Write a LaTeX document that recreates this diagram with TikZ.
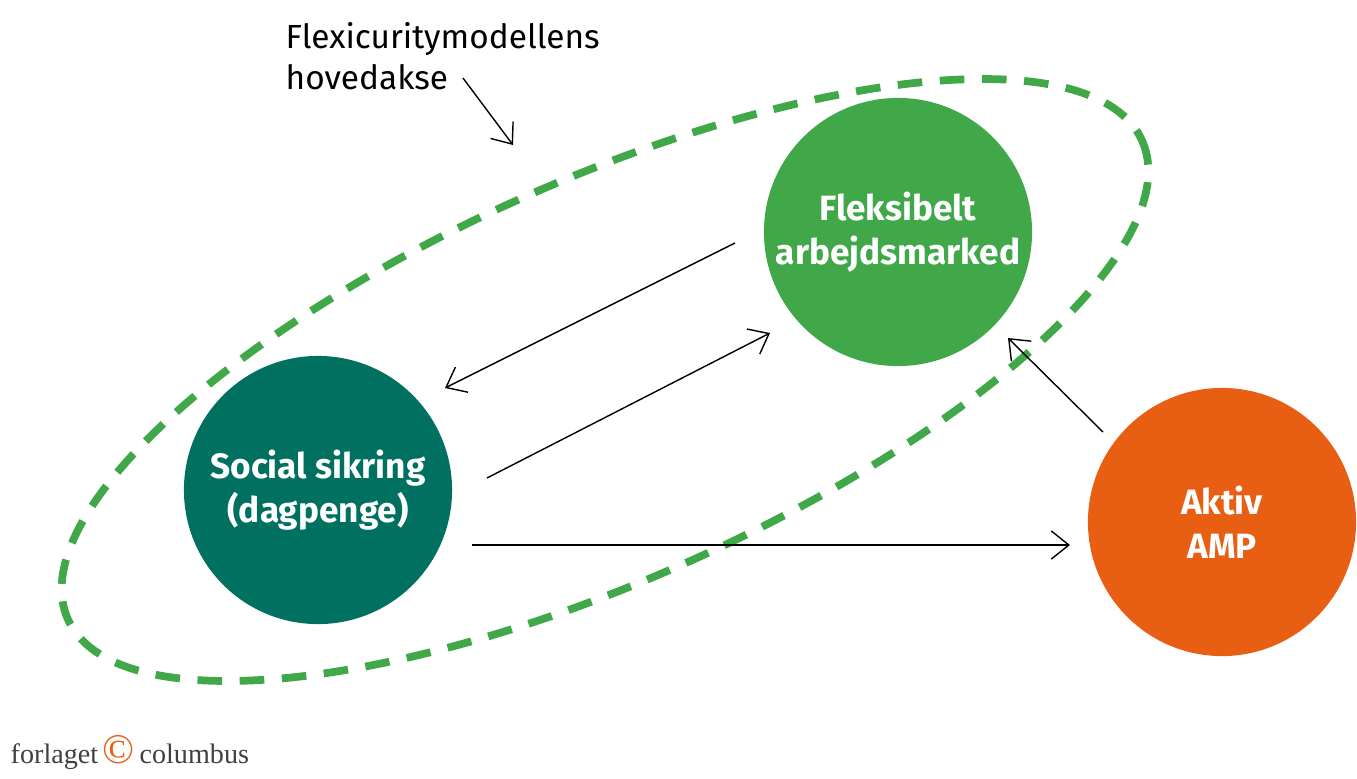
\documentclass[tikz,border=0pt]{standalone}
\usepackage{fontspec}
\setmainfont{Fira Sans}
\newfontfamily\logofont{Liberation Serif}
\usetikzlibrary{arrows.meta}
\definecolor{socialteal}{RGB}{0,112,96}
\definecolor{flexgreen}{RGB}{64,168,72}
\definecolor{amporange}{RGB}{232,94,18}
\tikzset{
  pillar/.style={circle,minimum size=2.68cm,inner sep=0pt,text=white,
    font=\fontsize{10}{12.5}\selectfont\bfseries,align=center},
  link/.style={->,>={Straight Barb[length=5pt,width=8pt]},thin}
}
\begin{document}
\begin{tikzpicture}[x=0.01cm,y=-0.01cm]
        \useasboundingbox (0,0) rectangle (1357,778);
        % \draw[help lines] (0,0) grid (1357,778);
        \node[pillar,fill=socialteal] at (318,490) (social){Social sikring\\(dagpenge)};
        \node[pillar,fill=flexgreen] at (898,232) (flex){Fleksibelt\\arbejdsmarked};
        \node[pillar,fill=amporange] at (1222,522) (amp){Aktiv\\AMP};

        \draw[flexgreen,line width=2.2pt,dash pattern=on 7pt off 5pt,rotate around={24:(605,380)}]
        (605,380) ellipse [x radius=588, y radius=200];

        \node[anchor=north west,align=left,inner sep=0pt,font=\fontsize{9.5}{11.5}\selectfont] at (285,22) (axis){Flexicuritymodellens\\hovedakse};
        \coordinate (axistip) at (513,145);
        \coordinate (axistail) at (463,78);

        \node[anchor=south west,inner sep=0pt,text=black!75,font=\logofont\fontsize{8}{9}\selectfont] at (10,770) (logo){forlaget\,{\color{amporange}\large\textcopyright}\,columbus};

        \draw[link] (axistail) -- (axistip);
        \draw[link] ([shift={(-163,11)}]flex.center) -- ([shift={(127,-102)}]social.center);
        \draw[link] ([shift={(169,-12)}]social.center) -- ([shift={(-128,101)}]flex.center);
        \draw[link] ([shift={(154,55)}]social.center) -- ([shift={(-152,23)}]amp.center);
        \draw[link] ([shift={(-119,-90)}]amp.center) -- ([shift={(110,106)}]flex.center);
\end{tikzpicture}
\end{document}
